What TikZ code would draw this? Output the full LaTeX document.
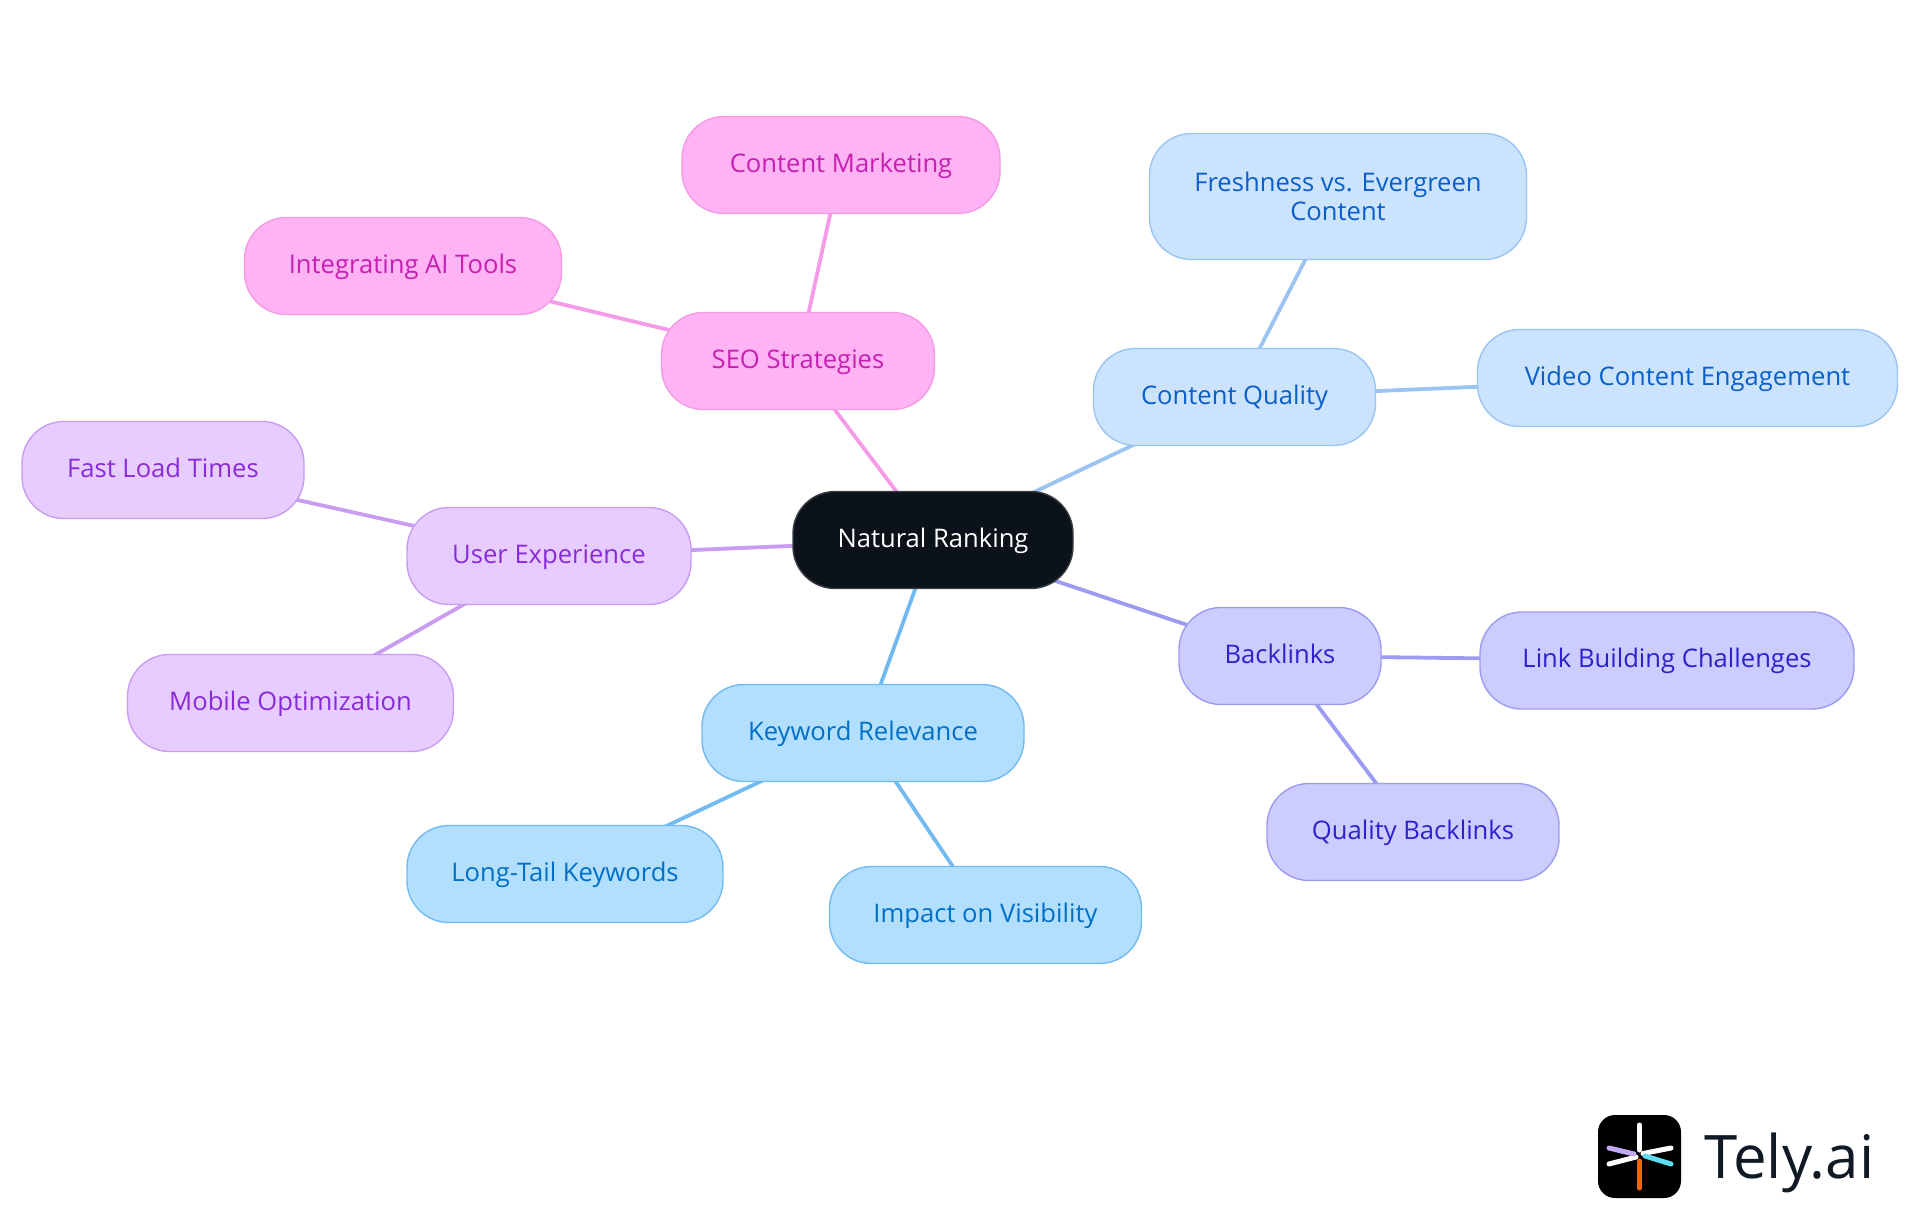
\documentclass[tikz,border=0pt]{standalone}
\usepackage{fontspec}
\setmainfont{Open Sans}
\usetikzlibrary{backgrounds}
\definecolor{seoF}{HTML}{FFB3F5}\definecolor{seoD}{HTML}{F59AE6}\definecolor{seoT}{HTML}{C71FB0}
\definecolor{cqF}{HTML}{CCE3FD}\definecolor{cqD}{HTML}{9AC4F2}\definecolor{cqT}{HTML}{0A5FC9}
\definecolor{uxF}{HTML}{E6CCFF}\definecolor{uxD}{HTML}{C99CF2}\definecolor{uxT}{HTML}{8A2BD9}
\definecolor{kwF}{HTML}{B3DFFF}\definecolor{kwD}{HTML}{72BBF2}\definecolor{kwT}{HTML}{0070C7}
\definecolor{blF}{HTML}{CCCCFF}\definecolor{blD}{HTML}{9C9CF2}\definecolor{blT}{HTML}{2B22CC}
\definecolor{rootF}{HTML}{0B1219}\definecolor{rootD}{HTML}{3A4046}
\definecolor{logoT}{HTML}{111A24}
\tikzset{
  x=1pt,y=-1pt,
  pill/.style={rounded corners=42pt,inner sep=0pt,outer sep=0pt,line width=1.4pt,align=center,
    font=\fontsize{25.6}{29.4}\selectfont,minimum height=97pt,text height=20pt,text depth=6pt},
  rootpill/.style={pill,fill=rootF,draw=rootD,text=white},
  seopill/.style={pill,fill=seoF,draw=seoD,text=seoT},
  cqpill/.style={pill,fill=cqF,draw=cqD,text=cqT},
  uxpill/.style={pill,fill=uxF,draw=uxD,text=uxT},
  kwpill/.style={pill,fill=kwF,draw=kwD,text=kwT},
  blpill/.style={pill,fill=blF,draw=blD,text=blT},
  link/.style={line width=3.8pt},
  spoke/.style={line width=5pt,line cap=round},
}
\begin{document}
\begin{tikzpicture}
\useasboundingbox (0,0) rectangle (1920,1215);
\node[rootpill,minimum width=280pt] (root) at (933,540) {Natural Ranking};
\node[seopill,minimum width=273pt] (seo) at (798,361) {SEO Strategies};
\node[seopill,minimum width=318pt] (cm) at (841,165) {Content Marketing};
\node[seopill,minimum width=317pt] (ai) at (403,266) {Integrating AI Tools};
\node[cqpill,minimum width=282pt] (cq) at (1234.5,397) {Content Quality};
\node[cqpill,minimum width=377pt,minimum height=126pt,text height=,text depth=] (fr) at (1338,196.5) {Freshness vs. Evergreen\\Content};
\node[cqpill,minimum width=420pt] (vid) at (1687.5,378) {Video Content Engagement};
\node[uxpill,minimum width=284pt] (ux) at (549,556) {User Experience};
\node[uxpill,minimum width=282pt] (fast) at (163,470) {Fast Load Times};
\node[uxpill,minimum width=326pt] (mob) at (290.5,703) {Mobile Optimization};
\node[kwpill,minimum width=322pt] (kw) at (863,733) {Keyword Relevance};
\node[kwpill,minimum width=316pt] (lt) at (565,874) {Long-Tail Keywords};
\node[kwpill,minimum width=312pt] (imp) at (985.5,915) {Impact on Visibility};
\node[blpill,minimum width=202pt] (bl) at (1280,656) {Backlinks};
\node[blpill,minimum width=374pt] (lb) at (1667,660.5) {Link Building Challenges};
\node[blpill,minimum width=292pt] (qb) at (1413,832) {Quality Backlinks};
\begin{scope}[on background layer]
\fill[white] (0,0) rectangle (1920,1215);
\draw[link,seoD] (root.center) -- (seo.center);
\draw[link,seoD] (seo.center) -- (cm.center);
\draw[link,seoD] (seo.center) -- (ai.center);
\draw[link,cqD] (root.center) -- (cq.center);
\draw[link,cqD] (cq.center) -- (fr.center);
\draw[link,cqD] (cq.center) -- (vid.center);
\draw[link,uxD] (root.center) -- (ux.center);
\draw[link,uxD] (ux.center) -- (fast.center);
\draw[link,uxD] (ux.center) -- (mob.center);
\draw[link,kwD] (root.center) -- (kw.center);
\draw[link,kwD] (kw.center) -- (lt.center);
\draw[link,kwD] (kw.center) -- (imp.center);
\draw[link,blD] (root.center) -- (bl.center);
\draw[link,blD] (bl.center) -- (lb.center);
\draw[link,blD] (bl.center) -- (qb.center);
\end{scope}
% logo
\fill[black,rounded corners=17pt] (1598,1115) rectangle (1681,1198);
\draw[spoke,white] (1639.5,1125) -- (1639.5,1150);
\draw[spoke,white] (1643,1153.5) -- (1671,1148);
\draw[spoke,white] (1636,1157) -- (1609,1164);
\draw[spoke,color={rgb,255:red,195;green,170;blue,245}] (1609,1148) -- (1634,1154);
\draw[spoke,color={rgb,255:red,95;green,220;blue,240}] (1645,1156) -- (1671,1164);
\draw[spoke,color={rgb,255:red,240;green,100;blue,10}] (1639.5,1161) -- (1639.5,1188);
\node[anchor=base west,inner sep=0pt,text=logoT,font=\fontsize{60}{60}\selectfont] (brand) at (1704,1178) {Tely.ai};
\end{tikzpicture}
\end{document}
